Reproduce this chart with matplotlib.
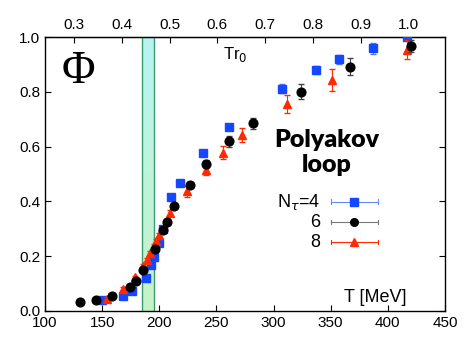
import numpy as np
import matplotlib.pyplot as plt
from matplotlib.colors import LinearSegmentedColormap

plt.rcParams['font.family'] = ['Liberation Sans', 'DejaVu Sans']

# N_tau = 4 (blue squares)
T4 = [150, 168, 176.5, 188, 192.5, 195.5, 200, 203, 210, 218, 238.5, 261, 307, 337, 357, 387, 417]
P4 = [0.040, 0.056, 0.074, 0.122, 0.169, 0.198, 0.247, 0.300, 0.417, 0.466, 0.578, 0.672, 0.812, 0.880, 0.918, 0.959, 1.000]
E4 = [0.005, 0.005, 0.005, 0.006, 0.006, 0.006, 0.007, 0.007, 0.008, 0.008, 0.010, 0.012, 0.018, 0.015, 0.016, 0.020, 0.010]

# N_tau = 6 (black circles)
T6 = [131, 145, 159, 174.5, 180, 186, 196, 203, 206.5, 213, 227, 241, 261, 282, 324, 367, 420]
P6 = [0.034, 0.040, 0.055, 0.087, 0.108, 0.150, 0.225, 0.296, 0.326, 0.382, 0.460, 0.536, 0.620, 0.685, 0.800, 0.892, 0.968]
E6 = [0.004, 0.004, 0.005, 0.005, 0.006, 0.006, 0.007, 0.008, 0.008, 0.010, 0.012, 0.014, 0.020, 0.020, 0.028, 0.030, 0.022]

# N_tau = 8 (red triangles)
T8 = [154, 168.5, 179, 186, 189, 192, 195, 197, 200, 209, 224.5, 240.5, 255.5, 272, 312, 351, 416.5]
P8 = [0.045, 0.081, 0.123, 0.164, 0.186, 0.210, 0.235, 0.255, 0.277, 0.357, 0.437, 0.515, 0.577, 0.642, 0.755, 0.843, 0.953]
E8 = [0.005, 0.006, 0.006, 0.007, 0.007, 0.008, 0.008, 0.008, 0.009, 0.012, 0.020, 0.020, 0.024, 0.027, 0.033, 0.040, 0.035]

band = (185, 195)
T0 = 418.0
top_ticks = [0.3, 0.4, 0.5, 0.6, 0.7, 0.8, 0.9, 1.0]

blue = '#1447ff'
red = '#ff2a00'

fig = plt.figure(figsize=(4.74, 3.58), dpi=100)
ax = fig.add_axes([0.0949, 0.1313, 0.8439, 0.7653])

# transition band, cyan at top fading to green at the bottom
cmap = LinearSegmentedColormap.from_list('band', ['#c6f2c6', '#b8f4f2'])
grad = np.linspace(0, 1, 100).reshape(-1, 1)
ax.imshow(grad, extent=[band[0], band[1], 0, 1], origin='lower', cmap=cmap,
          aspect='auto', zorder=0)
ax.axvline(band[0], color='#3a9a70', lw=1.0, zorder=1)
ax.axvline(band[1], color='#3a9a70', lw=1.0, zorder=1)

ax.errorbar(T4, P4, yerr=E4, fmt='s', color=blue, ms=6.3, ecolor='#5577ff',
            elinewidth=0.8, capsize=2, zorder=3)
ax.errorbar(T8, P8, yerr=E8, fmt='^', color=red, ms=6.0, ecolor=red,
            elinewidth=0.8, capsize=2, zorder=4)
ax.errorbar(T6, P6, yerr=E6, fmt='o', color='black', ms=6.3, ecolor='#444444',
            elinewidth=0.8, capsize=2, zorder=5)

ax.set_xlim(100, 450)
ax.set_ylim(0, 1)
ax.set_xticks(np.arange(100, 451, 50))
ax.set_yticks(np.arange(0, 1.01, 0.2))
ax.yaxis.set_major_formatter(plt.FormatStrFormatter('%.1f'))
ax.tick_params(direction='in', length=4, width=0.8, labelsize=11, right=True)
for s in ax.spines.values():
    s.set_linewidth(1.0)

sec = ax.secondary_xaxis('top', functions=(lambda t: t / T0, lambda r: r * T0))
sec.set_xticks(top_ticks)
sec.xaxis.set_major_formatter(plt.FormatStrFormatter('%.1f'))
sec.tick_params(direction='in', length=4, width=0.8, labelsize=11)

# texts
ax.text(0.083, 0.875, '\u03a6', transform=ax.transAxes, ha='center', va='center',
        fontsize=33, family=['Liberation Serif', 'DejaVu Serif'])
ax.text(0.475, 0.935, 'Tr$_0$', transform=ax.transAxes, ha='center', va='center',
        fontsize=12)
ax.text(0.705, 0.578, 'Polyakov\nloop', transform=ax.transAxes, ha='center',
        va='center', fontsize=18, fontweight='heavy', linespacing=1.15,
        family=['Lato', 'DejaVu Sans'])
ax.text(0.905, 0.05, 'T [MeV]', transform=ax.transAxes, ha='right', va='center',
        fontsize=13)

# legend drawn by hand
rows = [(0.399, 'N$_\\tau$=4', 's', blue, '#6688ff'),
        (0.324, '6', 'o', 'black', '#777777'),
        (0.251, '8', '^', red, red)]
for y, lab, m, c, lc in rows:
    ax.plot([0.714, 0.832], [y, y], transform=ax.transAxes, color=lc, lw=0.8,
            clip_on=False, zorder=6)
    ax.plot([0.714, 0.714], [y - 0.008, y + 0.008], transform=ax.transAxes,
            color=lc, lw=0.8, clip_on=False)
    ax.plot([0.832, 0.832], [y - 0.008, y + 0.008], transform=ax.transAxes,
            color=lc, lw=0.8, clip_on=False)
    ax.plot([0.773], [y], m, transform=ax.transAxes, color=c, ms=5.5, zorder=7)
    ax.text(0.6875, y, lab, transform=ax.transAxes, ha='right', va='center',
            fontsize=13)

fig.savefig('out.png', dpi=100)
